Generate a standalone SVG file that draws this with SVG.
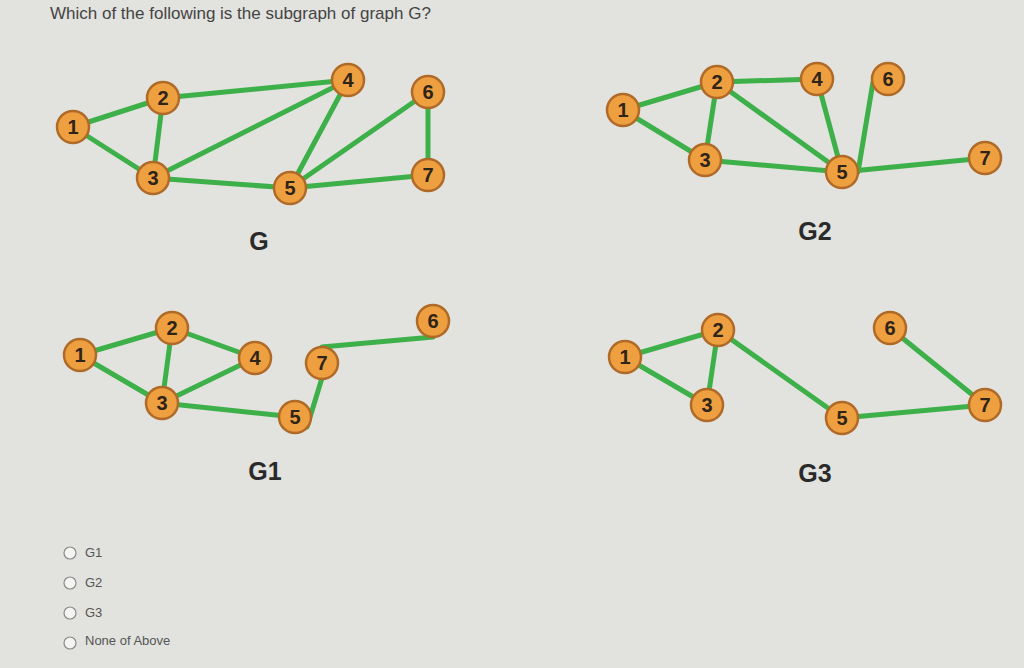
<svg xmlns="http://www.w3.org/2000/svg" width="1024" height="668" viewBox="0 0 1024 668">
<style>
.e{stroke:#3db04a;stroke-width:5;stroke-linecap:round;fill:none}
.n circle{fill:#eea040;stroke:#b06a28;stroke-width:2.5}
.n text{font-family:"Liberation Sans",Arial,sans-serif;font-weight:bold;font-size:20px;fill:#2e2418;text-anchor:middle;dominant-baseline:central}
.lab{font-family:"Liberation Sans",Arial,sans-serif;font-weight:bold;font-size:25px;fill:#2a2a2a;text-anchor:middle}
.q{font-family:"Liberation Sans",Arial,sans-serif;font-size:13px;fill:#555}
.r{fill:#f4f4f2;stroke:#8a8a8a;stroke-width:1.2}
</style>
<rect width="1024" height="668" fill="#e2e2de"/>
<text x="50" y="19" style="font-family:'Liberation Sans',Arial,sans-serif;font-size:17px;fill:#444">Which of the following is the subgraph of graph G?</text>
<g id="connectors">
<path class="e" d="M73 127L163 98M73 127L153 178M163 98L153 178M163 98L348 80M153 178L348 80M153 178L290 188M348 80L290 188M428 92L290 188M428 92L428 175M290 188L428 175"/>
<path class="e" d="M623 110L717 82M623 110L705 160M717 82L705 160M717 82L817 79M717 82L842 172M817 79L842 172M705 160L842 172M842 172L985 158M873 82L858 172"/>
<path class="e" d="M80 355L172 328M80 355L162 403M172 328L162 403M172 328L255 358M162 403L255 358M162 403L295 417M307 427L322 378M322 347L433 337"/>
<path class="e" d="M625 357L718 330M625 357L707 405M718 330L707 405M718 330L842 418M890 328L985 405M842 418L985 405"/>
</g>
<g id="G">
<g class="n" id="g-1"><circle cx="73" cy="127" r="16"/><text x="73" y="127">1</text></g>
<g class="n" id="g-2"><circle cx="163" cy="98" r="16"/><text x="163" y="98">2</text></g>
<g class="n" id="g-3"><circle cx="153" cy="178" r="16"/><text x="153" y="178">3</text></g>
<g class="n" id="g-4"><circle cx="348" cy="80" r="16"/><text x="348" y="80">4</text></g>
<g class="n" id="g-5"><circle cx="290" cy="188" r="16"/><text x="290" y="188">5</text></g>
<g class="n" id="g-6"><circle cx="428" cy="92" r="16"/><text x="428" y="92">6</text></g>
<g class="n" id="g-7"><circle cx="428" cy="175" r="16"/><text x="428" y="175">7</text></g>
</g>
<g id="G2">
<g class="n" id="g2-1"><circle cx="623" cy="110" r="16"/><text x="623" y="110">1</text></g>
<g class="n" id="g2-2"><circle cx="717" cy="82" r="16"/><text x="717" y="82">2</text></g>
<g class="n" id="g2-3"><circle cx="705" cy="160" r="16"/><text x="705" y="160">3</text></g>
<g class="n" id="g2-4"><circle cx="817" cy="79" r="16"/><text x="817" y="79">4</text></g>
<g class="n" id="g2-5"><circle cx="842" cy="172" r="16"/><text x="842" y="172">5</text></g>
<g class="n" id="g2-6"><circle cx="888" cy="79" r="16"/><text x="888" y="79">6</text></g>
<g class="n" id="g2-7"><circle cx="985" cy="158" r="16"/><text x="985" y="158">7</text></g>
</g>
<g id="G1">
<g class="n" id="g1-1"><circle cx="80" cy="355" r="16"/><text x="80" y="355">1</text></g>
<g class="n" id="g1-2"><circle cx="172" cy="328" r="16"/><text x="172" y="328">2</text></g>
<g class="n" id="g1-3"><circle cx="162" cy="403" r="16"/><text x="162" y="403">3</text></g>
<g class="n" id="g1-4"><circle cx="255" cy="358" r="16"/><text x="255" y="358">4</text></g>
<g class="n" id="g1-5"><circle cx="295" cy="417" r="16"/><text x="295" y="417">5</text></g>
<g class="n" id="g1-6"><circle cx="433" cy="321" r="16"/><text x="433" y="321">6</text></g>
<g class="n" id="g1-7"><circle cx="322" cy="363" r="16"/><text x="322" y="363">7</text></g>
</g>
<g id="G3">
<g class="n" id="g3-1"><circle cx="625" cy="357" r="16"/><text x="625" y="357">1</text></g>
<g class="n" id="g3-2"><circle cx="718" cy="330" r="16"/><text x="718" y="330">2</text></g>
<g class="n" id="g3-3"><circle cx="707" cy="405" r="16"/><text x="707" y="405">3</text></g>
<g class="n" id="g3-5"><circle cx="842" cy="418" r="16"/><text x="842" y="418">5</text></g>
<g class="n" id="g3-6"><circle cx="890" cy="328" r="16"/><text x="890" y="328">6</text></g>
<g class="n" id="g3-7"><circle cx="985" cy="405" r="16"/><text x="985" y="405">7</text></g>
</g>
<text class="lab" x="259" y="250">G</text>
<text class="lab" x="815" y="240">G2</text>
<text class="lab" x="265" y="480">G1</text>
<text class="lab" x="815" y="482">G3</text>
<g id="options">
<circle class="r" cx="70" cy="553" r="6"/><text class="q" x="85" y="557">G1</text>
<circle class="r" cx="70" cy="583" r="6"/><text class="q" x="85" y="587">G2</text>
<circle class="r" cx="70" cy="613" r="6"/><text class="q" x="85" y="617">G3</text>
<circle class="r" cx="70" cy="643" r="6"/><text class="q" x="85" y="645">None of Above</text>
</g>
</svg>
